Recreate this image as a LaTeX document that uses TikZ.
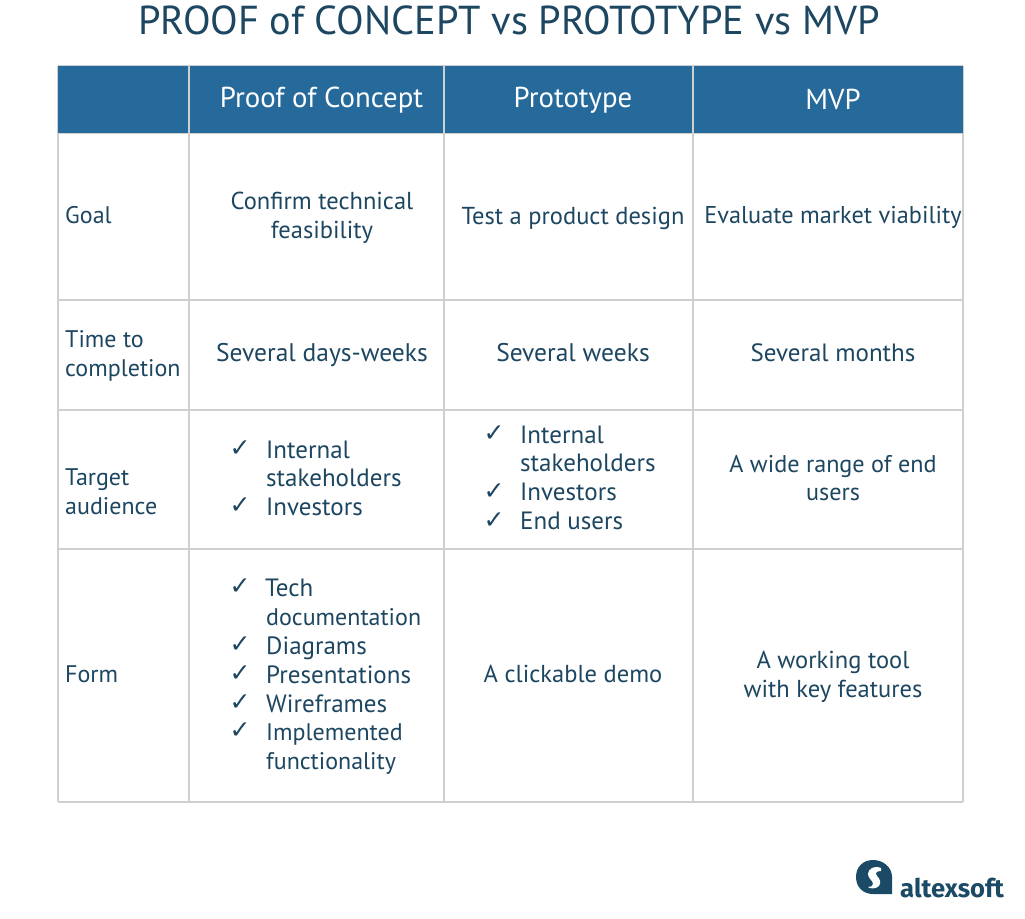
\documentclass[tikz,border=0pt]{standalone}
\usepackage{fontspec}
\setmainfont{PT Sans}
\newfontfamily\checkfont{DejaVu Sans}
\newfontfamily\logofont{Fira Sans}[UprightFont=* Bold]
\definecolor{ink}{HTML}{1D4661}
\definecolor{headblue}{HTML}{266A9C}
\definecolor{gridgrey}{HTML}{CFCFCF}
\definecolor{logoblue}{HTML}{1B4A66}
\newcommand{\sized}[1]{\fontsize{#1}{28.6}\selectfont}
\tikzset{
  x=1pt,y=-1pt,
  celltext/.style={text=ink,font=\sized{24.5},align=center,inner sep=0pt},
  rowhead/.style={text=ink,font=\sized{24},align=left,anchor=west,inner sep=0pt},
  headtext/.style={text=white,font=\fontsize{28.8}{30}\selectfont,inner sep=0pt},
  listtext/.style={text=ink,font=\sized{25},anchor=base west,inner sep=0pt},
  tick/.style={text=ink,font=\checkfont\fontsize{25}{25}\selectfont,anchor=base,inner sep=0pt},
  gridline/.style={draw=gridgrey,line width=1.6pt},
}
\begin{document}
\begin{tikzpicture}
\useasboundingbox (0,0) rectangle (1025,918);
\fill[white] (0,0) rectangle (1025,918);
\node[text=ink,font=\fontsize{40.4}{42}\selectfont,inner sep=0pt] (title) at (509,20) {PROOF of CONCEPT vs PROTOTYPE vs MVP};
% grid
\foreach \y in {66,133,300,410,549,802}{\draw[gridline] (58,\y) -- (963,\y);}
\foreach \x in {58,189,444,693,963}{\draw[gridline] (\x,66) -- (\x,802);}
% header band
\fill[headblue] (58,66) rectangle (188.2,133);
\fill[headblue] (189.8,66) rectangle (443.2,133);
\fill[headblue] (444.8,66) rectangle (692.2,133);
\fill[headblue] (693.8,66) rectangle (963,133);
% header text
\node[headtext] (h1) at (321.5,100) {Proof of Concept};
\node[headtext] (h2) at (573,100) {Prototype};
\node[headtext] (h3) at (833,99) {MVP};
% row heads
\node[rowhead] (r1) at (65,215) {Goal};
\node[rowhead] (r2) at (65,356) {Time to\\completion};
\node[rowhead] (r3) at (65,492) {Target\\audience};
\node[rowhead] (r4) at (65,674) {Form};
% row 1
\node[celltext] (g1) at (322,217.5) {Confirm technical\\feasibility};
\node[celltext] (g2) at (573,218) {Test a product design};
\node[celltext,font=\sized{24.3}] (g3) at (833,217) {Evaluate market viability};
% row 2
\node[celltext,font=\sized{25.5}] (t1) at (322,355) {Several days-weeks};
\node[celltext,font=\sized{25.5}] (t2) at (573,353) {Several weeks};
\node[celltext,font=\sized{25}] (t3) at (833,353) {Several months};
% row 3
\node[tick] (k1) at (240,456) {✓};
\node[listtext] (l1) at (266,458) {Internal};
\node[listtext] (l2) at (266,486) {stakeholders};
\node[tick] (k2) at (240,513) {✓};
\node[listtext] (l3) at (266,515) {Investors};
\node[tick] (k3) at (494,441) {✓};
\node[listtext] (m1) at (520,443) {Internal};
\node[listtext] (m2) at (520,471) {stakeholders};
\node[tick] (k4) at (494,499) {✓};
\node[listtext] (m3) at (520,500) {Investors};
\node[tick] (k5) at (494,528) {✓};
\node[listtext] (m4) at (520,529) {End users};
\node[celltext,font=\sized{24.2}] (a3) at (833,478) {A wide range of end\\users};
% row 4
\node[tick] (k6) at (240,594) {✓};
\node[listtext] (f1) at (265,596) {Tech};
\node[listtext,font=\sized{24}] (f2) at (266,625) {documentation};
\node[tick] (k7) at (240,652) {✓};
\node[listtext] (f3) at (266,654) {Diagrams};
\node[tick] (k8) at (240,681) {✓};
\node[listtext] (f4) at (266,683) {Presentations};
\node[tick] (k9) at (240,710) {✓};
\node[listtext] (f5) at (266,712) {Wireframes};
\node[tick] (k10) at (240,738) {✓};
\node[listtext,font=\sized{24}] (f6) at (266,740) {Implemented};
\node[listtext,font=\sized{24}] (f7) at (266,769) {functionality};
\node[celltext] (d2) at (573,674) {A clickable demo};
\node[celltext] (d3) at (833,677) {A working tool\\with key features};
% logo
\fill[logoblue] (873,860) .. controls (863,860) and (856,867) .. (856,877)
  .. controls (856,887) and (863,894) .. (873,894) -- (892,894)
  -- (892,877) .. controls (892,867) and (883,860) .. (873,860) -- cycle;
\fill[white] (881,868) .. controls (874,865) and (868,869) .. (868,874)
  .. controls (868,879) and (873,880) .. (873,884)
  .. controls (873,886) and (871,887) .. (868,887)
  .. controls (870,889) and (876,889) .. (879,886)
  .. controls (882,882) and (879,878) .. (877,876)
  .. controls (875,873) and (876,871) .. (881,871) -- cycle;
\node[text=logoblue,font=\logofont\fontsize{25.6}{26}\selectfont,anchor=base west,inner sep=0pt] (logo) at (900,897) {altexsoft};
\end{tikzpicture}
\end{document}
